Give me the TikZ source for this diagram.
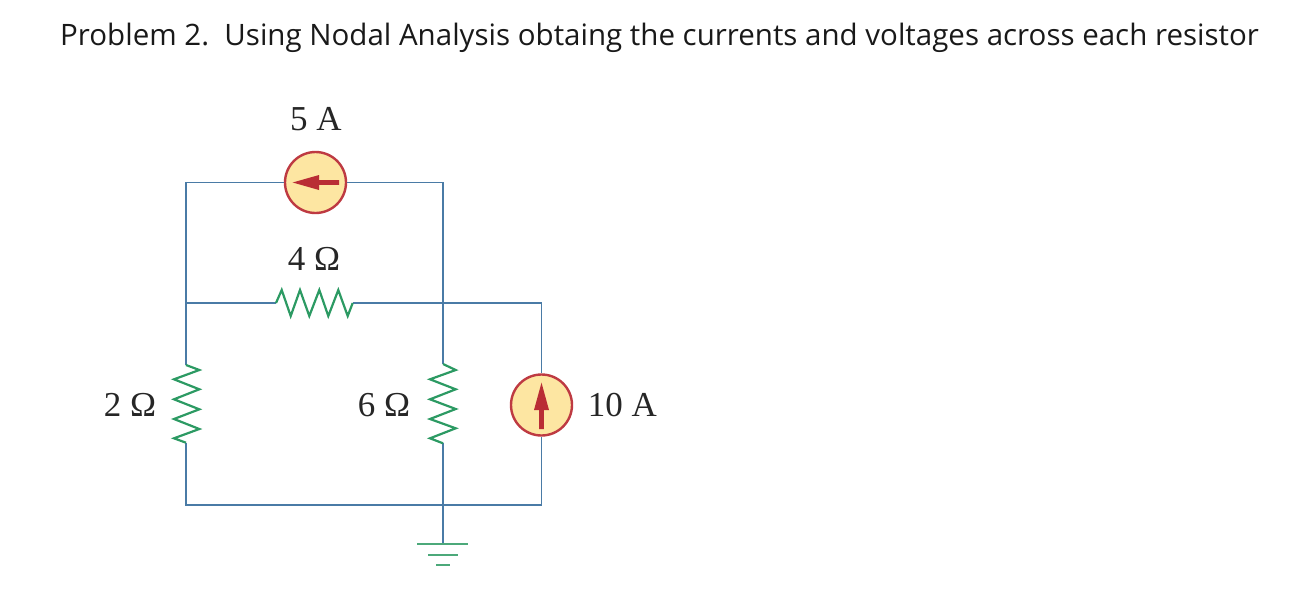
\documentclass[tikz,border=0pt]{standalone}
\usepackage{fontspec}
\setmainfont{Liberation Serif}
\newfontfamily\titlefont{Open Sans}
\definecolor{wireblue}{HTML}{4A7BA6}
\definecolor{srcred}{HTML}{BE3A42}
\definecolor{arrowred}{HTML}{B92D35}
\definecolor{srcfill}{HTML}{FDE6A2}
\definecolor{resgreen}{HTML}{2C9A63}
\tikzset{
  wire/.style={draw=wireblue,line width=1.8pt},
  res/.style={draw=resgreen,line width=2.2pt,line join=miter},
  gnd/.style={draw=resgreen!85!white,line width=1.8pt},
  source/.style={circle,draw=srcred,fill=srcfill,line width=2.4pt,minimum size=61pt,inner sep=0pt},
  arr/.style={fill=arrowred,draw=none},
  value/.style={anchor=base,inner sep=0pt,font=\fontsize{35}{38}\selectfont,text=black!85},
  titletext/.style={anchor=base west,inner sep=0pt,font=\titlefont\fontsize{29.5}{32}\selectfont,text=black!90}
}
\begin{document}
\begin{tikzpicture}[x=1pt,y=-1pt]
\useasboundingbox (0,0) rectangle (1292,589);
\node[titletext] (title) at (60,45) {\frenchspacing Problem 2.~ Using Nodal Analysis obtaing the currents and voltages across each resistor};

\coordinate (tl) at (186,182.5);
\coordinate (tr) at (443,182.5);
\coordinate (ml) at (186,303);
\coordinate (mm) at (443,303);
\coordinate (mr) at (541.5,303);
\coordinate (bl) at (186,505);
\coordinate (bm) at (443,505);
\coordinate (br) at (541.5,505);
\coordinate (g0) at (443,544);

\coordinate (r4a) at (276,303);
\coordinate (r4b) at (352.7,303);
\coordinate (r2a) at (186,365);
\coordinate (r2b) at (186,442.7);
\coordinate (r6a) at (443,364);
\coordinate (r6b) at (443,443.3);

\node[source] (s5) at (315.5,182.5) {};
\node[source] (s10) at (541.5,405) {};

\draw[wire] (s5.west) -- (tl) -- (r2a);
\draw[wire] (r2b) -- (bl) -- (br) -- (s10.south);
\draw[wire] (s5.east) -- (tr) -- (r6a);
\draw[wire] (r6b) -- (g0);
\draw[wire] (ml) -- (r4a);
\draw[wire] (r4b) -- (mr) -- (s10.north);

\draw[res] (r4a) -- (281.7,290) -- (290.7,316) -- (300,290) -- (309.3,316) -- (319.3,290) -- (328.3,316) -- (338.3,290) -- (347.7,316) -- (r4b);
\draw[res] (r2a) -- (199.3,370) -- (174,379.3) -- (199.3,389.3) -- (174,399.3) -- (199.3,409.3) -- (174,419) -- (199.3,429) -- (174,438.3) -- (r2b);
\draw[res] (r6a) -- (455.7,370) -- (430,379.3) -- (455.7,389.3) -- (430,399.3) -- (455.7,409) -- (430,419) -- (455.7,428.3) -- (430,438.3) -- (r6b);

\fill[arr] (292.7,182.5) -- (319,175) -- (319,180.2) -- (339,180.2) -- (339,184.8) -- (319,184.8) -- (319,190) -- cycle;
\fill[arr] (541.5,382.7) -- (549,410) -- (543.8,410) -- (543.8,429) -- (539.2,429) -- (539.2,410) -- (534,410) -- cycle;

\draw[gnd] (417,544) -- (g0) -- (468,544);
\draw[gnd] (428,555.3) -- (458,555.3);
\draw[gnd] (436,565.3) -- (450,565.3);

\node[value] (l5) at (316,130) {5 A};
\node[value] (l4) at (314,270) {4 \char"03A9};
\node[value] (l2) at (130,416) {2 \char"03A9};
\node[value] (l6) at (384,416) {6 \char"03A9};
\node[value] (l10) at (622.5,416) {10 A};
\end{tikzpicture}
\end{document}
